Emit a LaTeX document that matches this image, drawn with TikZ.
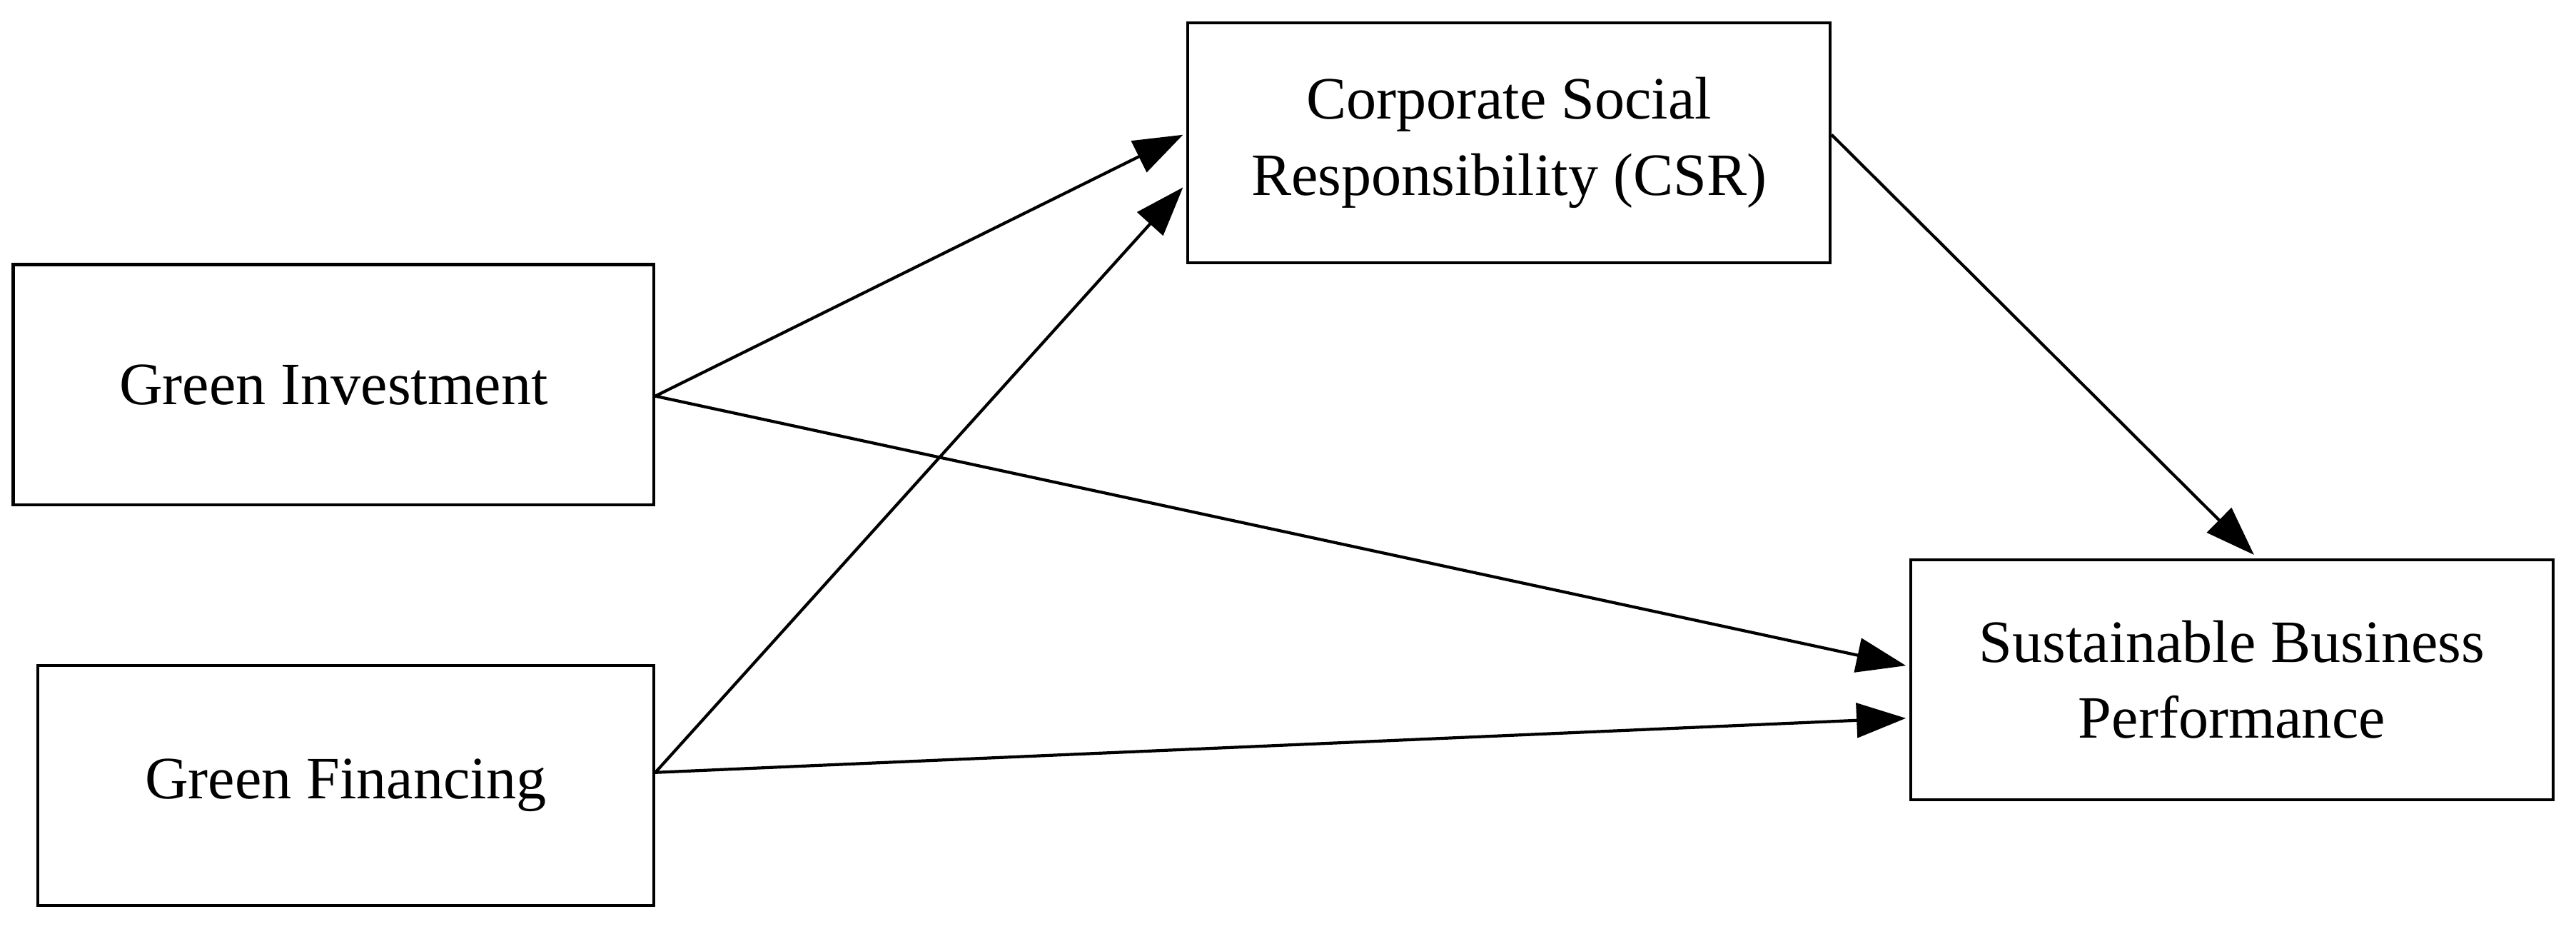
\documentclass[tikz,border=0pt]{standalone}
\usepackage{fontspec}
\setmainfont{Liberation Serif}
\usetikzlibrary{arrows.meta,calc}
\begin{document}
\begin{tikzpicture}[x=0.05cm,y=-0.05cm,
  box/.style={draw,line width=2.6pt,align=center,inner sep=0pt,minimum height=7.3cm,font=\fontsize{52}{66}\selectfont},
  arr/.style={line width=2.6pt,-{Triangle[length=1.5cm,width=1.05cm]}}]
\useasboundingbox (0,0) rectangle (1568,565.2);
\node[box,minimum width=19.5cm] (gi) at (203,234) {Green Investment};
\node[box,minimum width=18.75cm] (gf) at (210.5,478) {Green Financing};
\node[box,minimum width=19.55cm] (csr) at (918.5,87) {Corporate Social\\Responsibility (CSR)};
\node[box,minimum width=19.55cm] (sbp) at (1358.5,413.5) {Sustainable Business\\Performance};
\coordinate (gio) at ($(gi.east)+(0,7)$);
\coordinate (gfo) at ($(gf.east)+(0,-8)$);
\draw[arr] (gio) -- ($(csr.west)+(-2,-5)$);
\draw[arr] (gio) -- ($(sbp.west)+(-2,-8.5)$);
\draw[arr] (gfo) -- ($(csr.west)+(-2,27)$);
\draw[arr] (gfo) -- ($(sbp.west)+(-2,23.5)$);
\draw[arr] ($(csr.east)+(0,-5)$) -- ($(sbp.north)+(13.5,-2)$);
\end{tikzpicture}
\end{document}
